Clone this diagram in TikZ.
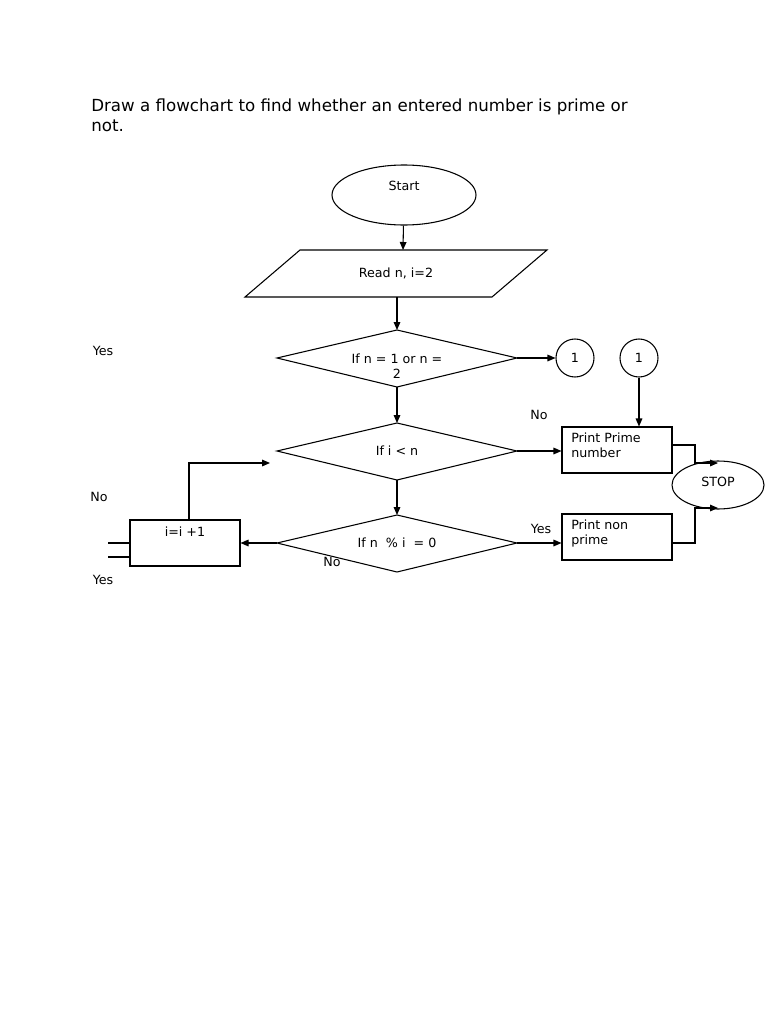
\documentclass[tikz,border=0pt]{standalone}
\usepackage{fontspec}
\setmainfont{DejaVu Sans}
\usetikzlibrary{shapes.geometric,arrows.meta}
\begin{document}
\begin{tikzpicture}[x=0.75pt,y=-0.75pt,
  line/.style={draw, line width=0.8pt},
  arr/.style={line, -{Triangle[length=6pt,width=5pt]}},
  lbl/.style={font=\fontsize{9.5}{11}\selectfont, inner sep=0pt},
  box/.style={line, minimum width=82.5pt, minimum height=34.5pt},
  dia/.style={line}]
\useasboundingbox (0,0) rectangle (768,1024);
\node[anchor=west, font=\fontsize{12.5}{15}\selectfont, align=left, inner sep=0pt] (title) at (91,115)
 {Draw a flowchart to find whether an entered number is prime or\\not.};
\node[line, ellipse, minimum width=108pt, minimum height=45pt] (start) at (404,195) {};
\node[lbl] at (404,186) {Start};
\draw[line] (300,250) -- (547,250) -- (492,297) -- (245,297) -- cycle;
\node[lbl] (read) at (396,273) {Read n, i=2};
\coordinate (readT) at (403,250); \coordinate (readB) at (397,297);
% diamonds
\draw[line] (277,358) -- (397,330) -- (517,358) -- (397,387) -- cycle;
\node[lbl, align=center] (d1) at (397,366) {If n = 1 or n =\\2};
\draw[line] (277,451) -- (397,423) -- (517,451) -- (397,480) -- cycle;
\node[lbl] (d2) at (397,451) {If i < n};
\draw[line] (277,543) -- (397,515) -- (517,543) -- (397,572) -- cycle;
\node[lbl] (d3) at (397,543) {If n~ \% i~ = 0};
\coordinate (d1T) at (397,330); \coordinate (d1B) at (397,387); \coordinate (d1R) at (517,358);
\coordinate (d2T) at (397,423); \coordinate (d2B) at (397,480); \coordinate (d2R) at (517,451);
\coordinate (d3T) at (397,515); \coordinate (d3R) at (517,543); \coordinate (d3L) at (277,543);
\node[line, circle, minimum size=28.5pt, lbl] (c1) at (575,358) {1};
\node[line, circle, minimum size=28.5pt, lbl] (c2) at (639,358) {1};
\node[box] (pp) at (617,450) {};
\node[lbl, align=left, anchor=north west] at (571,433) {Print Prime\\number};
\node[box] (np) at (617,537) {};
\node[lbl, align=left, anchor=north west] at (571,520) {Print non\\prime};
\node[line, ellipse, minimum width=69pt, minimum height=36pt] (stop) at (718,485) {};
\node[lbl] at (718,482) {STOP};
\node[line, minimum width=82.5pt, minimum height=34.5pt] (inc) at (185,543) {};
\node[lbl] at (185,532) {i=i +1};
\coordinate (back) at (270,463);
\coordinate (w1) at (108,543); \coordinate (w2) at (108,557);
% connectors
\draw[arr] (start) -- (readT);
\draw[arr] (readB) -- (d1T);
\draw[arr] (d1B) -- (d2T);
\draw[arr] (d2B) -- (d3T);
\draw[arr] (d1R) -- (c1);
\draw[arr] (c2) -- (c2 |- pp.north);
\draw[arr] (d2R) -- (pp.west |- d2R);
\draw[arr] (d3R) -- (np.west |- d3R);
\draw[arr] (d3L) -- (inc.east |- d3L);
\draw[arr] (inc.north -| 189,0) -- (189,463) -- (back);
\draw[arr] (pp.east |- 0,445) -- (695,445) -- (695,463) -- (718,463);
\draw[arr] (np.east |- 0,543) -- (695,543) -- (695,508) -- (718,508);
\draw[line] (w1) -- (inc.west |- w1);
\draw[line] (w2) -- (inc.west |- w2);
% labels
\node[lbl] at (103,351) {Yes};
\node[lbl] at (539,415) {No};
\node[lbl] at (99,497) {No};
\node[lbl] at (541,529) {Yes};
\node[lbl] at (332,562) {No};
\node[lbl] at (103,580) {Yes};
\end{tikzpicture}
\end{document}
